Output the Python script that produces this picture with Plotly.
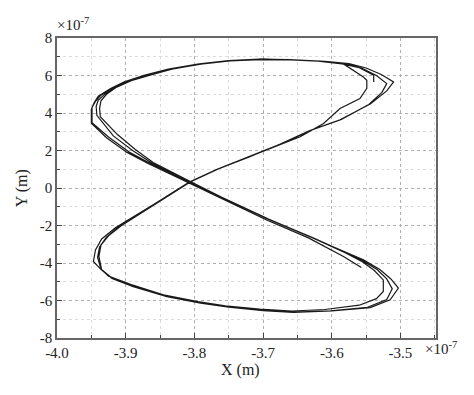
import plotly.graph_objects as go

# Values in units of 1e-7 m (axes show "x10^-7")
start_x = [-3.539, -3.539]
start_y = [5.66, 6.02]

top1_x = [-3.560, -3.585, -3.620, -3.660, -3.704, -3.748, -3.791, -3.835, -3.869, -3.900, -3.920, -3.936, -3.944, -3.949]
top1_y = [6.42, 6.62, 6.76, 6.83, 6.85, 6.78, 6.60, 6.33, 6.03, 5.68, 5.32, 4.95, 4.62, 4.30]
fall1_x = [-3.949, -3.925, -3.895, -3.864, -3.809, -3.745, -3.690, -3.632, -3.590, -3.554, -3.530, -3.514, -3.503]
fall1_y = [3.48, 2.72, 1.92, 1.30, 0.34, -0.75, -1.70, -2.60, -3.25, -3.83, -4.35, -4.85, -5.34]
bottom1_x = [-3.515, -3.544, -3.600, -3.656, -3.700, -3.750, -3.791, -3.840, -3.889, -3.920, -3.935, -3.947]
bottom1_y = [-5.96, -6.38, -6.56, -6.63, -6.54, -6.36, -6.14, -5.80, -5.26, -4.82, -4.38, -3.92]
rise1_x = [-3.944, -3.935, -3.915, -3.890, -3.864, -3.836, -3.809, -3.770, -3.720, -3.675, -3.632, -3.588, -3.544, -3.520, -3.510]
rise1_y = [-3.30, -2.72, -2.12, -1.56, -0.99, -0.36, 0.28, 0.95, 1.66, 2.35, 3.06, 3.64, 4.48, 5.18, 5.66]

top2_x = [-3.528, -3.550, -3.575, -3.610, -3.655, -3.700, -3.745, -3.790, -3.832, -3.865, -3.895, -3.915, -3.930, -3.940, -3.943]
top2_y = [6.05, 6.40, 6.63, 6.76, 6.84, 6.87, 6.80, 6.63, 6.37, 6.07, 5.74, 5.40, 5.02, 4.68, 4.35]
fall2_x = [-3.942, -3.918, -3.890, -3.862, -3.810, -3.748, -3.692, -3.630, -3.588, -3.556, -3.534, -3.520, -3.512]
fall2_y = [3.88, 2.78, 2.00, 1.33, 0.36, -0.72, -1.66, -2.62, -3.30, -3.86, -4.35, -4.85, -5.38]
bottom2_x = [-3.520, -3.548, -3.602, -3.656, -3.702, -3.752, -3.793, -3.843, -3.890, -3.922, -3.936, -3.941]
bottom2_y = [-5.95, -6.36, -6.55, -6.62, -6.50, -6.32, -6.10, -5.75, -5.20, -4.75, -4.32, -3.70]
rise2_x = [-3.938, -3.928, -3.910, -3.886, -3.862, -3.834, -3.808, -3.768, -3.718, -3.672, -3.630, -3.586, -3.546, -3.527, -3.520]
rise2_y = [-3.15, -2.62, -2.05, -1.50, -0.96, -0.33, 0.30, 0.98, 1.70, 2.38, 3.08, 3.66, 4.45, 5.10, 5.57]

top3_x = [-3.535, -3.556, -3.580, -3.615, -3.658, -3.702, -3.746, -3.788, -3.830, -3.862, -3.892, -3.913, -3.928, -3.936, -3.938]
top3_y = [6.00, 6.38, 6.62, 6.76, 6.84, 6.86, 6.79, 6.62, 6.36, 6.05, 5.72, 5.38, 5.00, 4.65, 4.25]
fall3_x = [-3.937, -3.912, -3.886, -3.860, -3.808, -3.750, -3.695, -3.628, -3.586, -3.557, -3.538, -3.525, -3.525]
fall3_y = [3.80, 2.85, 2.05, 1.36, 0.38, -0.68, -1.62, -2.64, -3.34, -3.90, -4.40, -4.90, -5.52]
bottom3_x = [-3.535, -3.560, -3.610, -3.658, -3.705, -3.755, -3.795, -3.845, -3.892, -3.925, -3.935, -3.939]
bottom3_y = [-5.90, -6.25, -6.48, -6.56, -6.46, -6.28, -6.06, -5.70, -5.15, -4.70, -4.36, -3.65]
rise3_x = [-3.936, -3.925, -3.906, -3.883, -3.860, -3.832, -3.806, -3.766, -3.716, -3.670, -3.646, -3.612, -3.588, -3.559, -3.549, -3.549, -3.554]
rise3_y = [-3.05, -2.55, -2.00, -1.46, -0.94, -0.30, 0.32, 1.00, 1.72, 2.40, 2.73, 3.44, 4.24, 4.77, 5.31, 5.75, 5.92]

top4_x = [-3.583, -3.620, -3.662, -3.706, -3.750, -3.793, -3.838, -3.872, -3.902, -3.922, -3.940, -3.946, -3.950]
top4_y = [6.62, 6.77, 6.85, 6.87, 6.80, 6.62, 6.34, 6.02, 5.66, 5.30, 4.90, 4.55, 4.20]
fall4_x = [-3.950, -3.928, -3.898, -3.866, -3.811, -3.748, -3.694, -3.634, -3.583, -3.557]
fall4_y = [3.46, 2.68, 1.90, 1.28, 0.32, -0.78, -1.72, -2.66, -3.65, -4.24]

x_tick_vals = [-4.0, -3.9, -3.8, -3.7, -3.6, -3.5]
x_tick_text = ["-4.0", "-3.9", "-3.8", "-3.7", "-3.6", "-3.5"]
x_minor_vals = [-3.95, -3.85, -3.75, -3.65, -3.55, -3.45]
y_tick_vals = [-8, -6, -4, -2, 0, 2, 4, 6, 8]
y_tick_text = ["-8", "-6", "-4", "-2", "0", "2", "4", "6", "8"]
y_minor_vals = [-7, -5, -3, -1, 1, 3, 5, 7]

path_x = (start_x + top1_x + fall1_x + bottom1_x + rise1_x + top2_x + fall2_x + bottom2_x + rise2_x
          + top3_x + fall3_x + bottom3_x + rise3_x + top4_x + fall4_x)
path_y = (start_y + top1_y + fall1_y + bottom1_y + rise1_y + top2_y + fall2_y + bottom2_y + rise2_y
          + top3_y + fall3_y + bottom3_y + rise3_y + top4_y + fall4_y)

fig = go.Figure()
fig.add_trace(go.Scatter(x=path_x, y=path_y, mode="lines",
                         line=dict(color="#1a1a1a", width=1.2), showlegend=False))

font_family = "Liberation Serif"
axis_common = dict(
    ticks="inside", ticklen=5, tickwidth=1, tickcolor="#444",
    showline=True, linecolor="#666", linewidth=1.5, mirror=True,
    showgrid=True, gridcolor="#b0b0b0", griddash="dot", gridwidth=1,
    zeroline=False, tickfont=dict(family=font_family, size=15, color="#222"),
)
fig.update_xaxes(range=[-4.0, -3.4483], tickmode="array", tickvals=x_tick_vals, ticktext=x_tick_text,
                 minor=dict(tickmode="array", tickvals=x_minor_vals, ticks="inside", ticklen=3,
                            tickcolor="#444", showgrid=True, gridcolor="#dcdcdc", griddash="dot"),
                 **axis_common)
fig.update_yaxes(range=[-8, 8], tickmode="array", tickvals=y_tick_vals, ticktext=y_tick_text,
                 minor=dict(tickmode="array", tickvals=y_minor_vals, ticks="inside", ticklen=3,
                            tickcolor="#444", showgrid=True, gridcolor="#dcdcdc", griddash="dot"),
                 **axis_common)

# page body has an 8px default margin; size the figure so the plot lands where the reference's does
fig.update_layout(
    width=466, height=387,
    margin=dict(l=49, r=38, t=30, b=57),
    plot_bgcolor="white", paper_bgcolor="white",
    font=dict(family=font_family, size=15, color="#222"),
    showlegend=False,
    annotations=[
        dict(text="×10<sup>-7</sup>", xref="paper", yref="paper", x=-0.005, y=1.046,
             xanchor="left", yanchor="middle", showarrow=False, font=dict(size=15)),
        dict(text="×10<sup>-7</sup>", xref="paper", yref="paper", x=0.966, y=-0.034,
             xanchor="left", yanchor="middle", showarrow=False, font=dict(size=15)),
        dict(text="X (m)", xref="paper", yref="paper", x=0.483, y=-0.105,
             xanchor="center", yanchor="middle", showarrow=False, font=dict(size=16)),
        dict(text="Y (m)", xref="paper", yref="paper", x=-0.0915, y=0.5,
             xanchor="center", yanchor="middle", textangle=-90, showarrow=False, font=dict(size=16)),
    ],
)

fig.write_html("out.html")
